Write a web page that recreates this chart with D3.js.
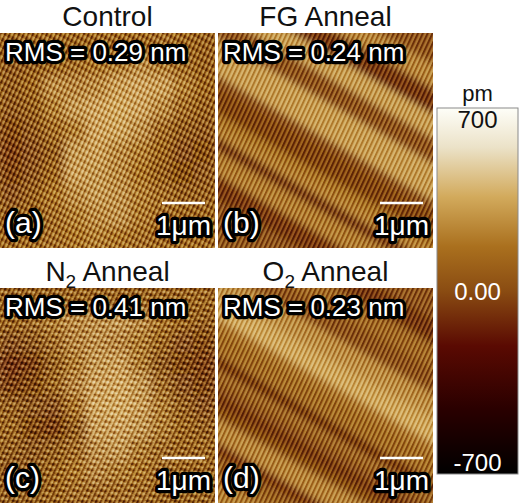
<!DOCTYPE html>
<html>
<head>
<meta charset="utf-8">
<script src="https://cdn.jsdelivr.net/npm/d3@7"></script>
<style>
body { margin: 0; background: #fff; }
svg { display: block; font-family: "Liberation Sans", Arial, sans-serif; }
</style>
</head>
<body>
<div id="chart"></div>
<script>
// panels
var panelIds = ['a', 'b', 'c', 'd'];
var panelTitles = ['Control', 'FG Anneal', 'N|2| Anneal', 'O|2| Anneal'];
var rmsLabels = ['RMS = 0.29 nm', 'RMS = 0.24 nm', 'RMS = 0.41 nm', 'RMS = 0.23 nm'];

// heights (pm), coarse 10x10 read-off of the mottled scans, row by row from the top
var gridA = [
    [66, 100, 100, 100, 100, 100, 100, 134, 100, 66],
    [32, 66, 100, 134, 168, 202, 253, 202, 134, 66],
    [49, 100, 253, 236, 253, 320, 335, 320, 202, 100],
    [32, 66, 202, 300, 335, 350, 335, 253, 134, 66],
    [-36, 32, 134, 202, 335, 340, 270, 134, 49, 32],
    [-70, -2, 66, 300, 320, 253, 202, 100, -2, -19],
    [-53, 15, 100, 320, 300, 253, 168, 66, -19, 32],
    [-2, 66, 168, 253, 300, 270, 202, 134, 66, 66],
    [66, 100, 134, 202, 253, 270, 185, 134, 100, 100],
    [100, 100, 134, 168, 202, 168, 134, 100, 100, 100]
];
var gridC = [
    [100, 100, 100, 100, 100, 100, 100, 100, 100, 100],
    [100, 134, 202, 253, 270, 300, 253, 168, 100, 66],
    [-2, 32, 134, 236, 270, 236, 202, 100, -2, -36],
    [-104, -70, 66, 202, 300, 320, 202, 32, -36, -70],
    [-70, -36, 100, 236, 335, 355, 300, 134, -2, -53],
    [66, 32, -2, 168, 345, 360, 320, 202, 66, -2],
    [100, -36, -70, 66, 320, 335, 300, 202, 100, 66],
    [66, 32, 66, 134, 270, 300, 202, 134, 100, 100],
    [32, 66, 100, 168, 236, 202, 168, 134, 100, 100],
    [66, 66, 100, 134, 134, 134, 134, 100, 100, 100]
];

// terrace profiles (pm) across the step bands, position in um perpendicular to the bands
var bandPos = [-2.5, -2.25, -2, -1.75, -1.5, -1.25, -1, -0.75, -0.5, -0.25, 0, 0.25, 0.5, 0.75,
    1, 1.25, 1.5, 1.75, 2, 2.25, 2.5, 2.75, 3, 3.25, 3.5, 3.75, 4, 4.25, 4.5];
var bandB = [20, 20, 20, 230, 230, -90, -90, 310, 310, 20, 20, 310, 310, 310, 20, -40, -40,
    160, 210, -90, 190, 210, -70, -90, 20, 20, 30, 30, 30];
var bandD = [20, 20, 20, -90, -90, 110, 110, 20, 20, 250, 270, 340, 360, 190, 130, 130, -90,
    110, 20, -90, -10, 230, 230, -80, 50, 110, 210, 210, 190];

// colour bar
var barTicks = [700, 0, -700];
var barTickLabels = ['700', '0.00', '-700'];
var colorDomain = [-700, -450, -210, 0, 170, 360, 550, 700];
var colorRange = ['#000000', '#2a0000', '#5a0a02', '#8a4c12', '#aa701e', '#d2aa5c', '#ebe2c8', '#fefef8'];

var panelSize = 215;
var scanSize = 5; // um

var svg = d3.select('#chart').append('svg')
    .attr('width', 520)
    .attr('height', 504);
var defs = svg.append('defs');

var heightColor = d3.scaleLinear()
    .domain(colorDomain)
    .range(colorRange)
    .clamp(true);
var um = d3.scaleLinear().domain([0, scanSize]).range([0, panelSize]);
var panelX = d3.scaleOrdinal().domain(panelIds).range([0, 218, 0, 218]);
var panelY = d3.scaleOrdinal().domain(panelIds).range([33, 33, 288, 288]);

// filters and textures
defs.append('filter').attr('id', 'soft5')
    .append('feGaussianBlur').attr('stdDeviation', 5);
defs.append('filter').attr('id', 'soft4')
    .append('feGaussianBlur').attr('stdDeviation', 3.5);

function stripePattern(id, period, angle) {
    var p = defs.append('pattern')
        .attr('id', id)
        .attr('patternUnits', 'userSpaceOnUse')
        .attr('width', period)
        .attr('height', 20)
        .attr('patternTransform', 'rotate(' + angle + ')');
    p.append('rect').attr('x', 0).attr('y', 0).attr('width', period / 2).attr('height', 20).attr('fill', '#000');
    p.append('rect').attr('x', period / 2).attr('y', 0).attr('width', period / 2).attr('height', 20).attr('fill', '#fff');
}
stripePattern('ripple', 4.4, 25);
stripePattern('rippleFine', 4.2, 25);
stripePattern('cross', 6.3, -62);
stripePattern('scan', 5.3, 90);

// which fine texture goes over which scan, with its strength
var textures = {
    a: [['rippleFine', 0.75], ['cross', 0.4]],
    b: [['ripple', 0.6]],
    c: [['rippleFine', 0.7], ['cross', 0.4], ['scan', 0.35]],
    d: [['ripple', 0.6]]
};

function drawGrid(g, grid) {
    var x = d3.scaleBand().domain(d3.range(grid[0].length)).range([0, panelSize]);
    var y = d3.scaleBand().domain(d3.range(grid.length)).range([0, panelSize]);
    g.append('rect')
        .attr('width', panelSize).attr('height', panelSize)
        .attr('fill', heightColor(d3.median(grid.flat())));
    var cells = g.append('g').attr('filter', 'url(#soft5)');
    grid.forEach(function(row, r) {
        cells.selectAll(null)
            .data(row)
            .enter().append('rect')
            .attr('x', function(d, c) { return x(c); })
            .attr('y', y(r))
            .attr('width', x.bandwidth() + 0.5)
            .attr('height', y.bandwidth() + 0.5)
            .attr('fill', function(d) { return heightColor(d); });
    });
}

function drawBands(g, profile) {
    var step = um(bandPos[1] - bandPos[0]);
    var terraces = g.append('g')
        .attr('filter', 'url(#soft4)')
        .append('g')
        .attr('transform', 'rotate(30)');
    terraces.selectAll('rect')
        .data(profile)
        .enter().append('rect')
        .attr('x', -60)
        .attr('y', function(d, i) { return um(bandPos[i]) - step / 2; })
        .attr('width', 420)
        .attr('height', step + 0.5)
        .attr('fill', function(d) { return heightColor(d); });
}

function outlined(sel, size) {
    return sel
        .attr('font-size', size)
        .attr('fill', '#fff')
        .attr('stroke', '#000')
        .attr('stroke-width', 6.5)
        .attr('stroke-linejoin', 'round')
        .style('paint-order', 'stroke');
}

panelIds.forEach(function(id, i) {
    var g = svg.append('g')
        .attr('transform', 'translate(' + panelX(id) + ',' + panelY(id) + ')');

    defs.append('clipPath').attr('id', 'clip-' + id)
        .append('rect').attr('width', panelSize).attr('height', panelSize);

    var img = g.append('g')
        .attr('clip-path', 'url(#clip-' + id + ')')
        .style('isolation', 'isolate');
    if (id === 'a') drawGrid(img, gridA);
    if (id === 'c') drawGrid(img, gridC);
    if (id === 'b') drawBands(img, bandB);
    if (id === 'd') drawBands(img, bandD);

    textures[id].forEach(function(t) {
        img.append('rect')
            .attr('width', panelSize).attr('height', panelSize)
            .attr('fill', 'url(#' + t[0] + ')')
            .attr('opacity', t[1])
            .style('mix-blend-mode', 'soft-light');
    });

    // title, N2 / O2 get a subscript
    var parts = panelTitles[i].split('|');
    var title = g.append('text')
        .attr('x', panelSize / 2)
        .attr('y', -7)
        .attr('text-anchor', 'middle')
        .attr('font-size', 28)
        .attr('fill', '#111');
    title.append('tspan').text(parts[0]);
    if (parts.length > 1) {
        title.append('tspan').attr('dy', 7).attr('font-size', 19).text(parts[1]);
        title.append('tspan').attr('dy', -7).text(parts[2]);
    }

    outlined(g.append('text'), 26)
        .attr('x', 5)
        .attr('y', 28)
        .text(rmsLabels[i]);

    outlined(g.append('text'), 30)
        .attr('x', 5)
        .attr('y', 200)
        .text('(' + id + ')');

    outlined(g.append('text'), 28)
        .attr('x', panelSize - 4)
        .attr('y', 202)
        .attr('text-anchor', 'end')
        .text('1\u03bcm');

    g.append('line')
        .attr('x1', panelSize - 10 - um(1))
        .attr('x2', panelSize - 10)
        .attr('y1', 170)
        .attr('y2', 170)
        .attr('stroke', '#fff')
        .attr('stroke-width', 2.5);
});

// colour bar
var barX = 437, barW = 81;
var barY = d3.scaleLinear().domain([-700, 700]).range([474, 108]);

var grad = defs.append('linearGradient')
    .attr('id', 'barGrad')
    .attr('x1', 0).attr('y1', 1).attr('x2', 0).attr('y2', 0);
grad.selectAll('stop')
    .data(colorDomain)
    .enter().append('stop')
    .attr('offset', function(d) { return (d + 700) / 1400; })
    .attr('stop-color', function(d) { return heightColor(d); });

svg.append('rect')
    .attr('x', barX)
    .attr('y', barY(700))
    .attr('width', barW)
    .attr('height', barY(-700) - barY(700))
    .attr('fill', 'url(#barGrad)')
    .attr('stroke', '#8a8a8a')
    .attr('stroke-width', 1);

svg.append('text')
    .attr('x', barX + barW / 2)
    .attr('y', barY(700) - 7)
    .attr('text-anchor', 'middle')
    .attr('font-size', 22)
    .attr('fill', '#111')
    .text('pm');

svg.selectAll('.tick')
    .data(barTicks)
    .enter().append('text')
    .attr('class', 'tick')
    .attr('x', barX + barW / 2)
    .attr('y', function(d, i) { return barY(d) + [20, 9, -3][i]; })
    .attr('text-anchor', 'middle')
    .attr('font-size', 24)
    .attr('fill', function(d) { return d > 0 ? '#111' : '#fff'; })
    .text(function(d, i) { return barTickLabels[i]; });
</script>
</body>
</html>
